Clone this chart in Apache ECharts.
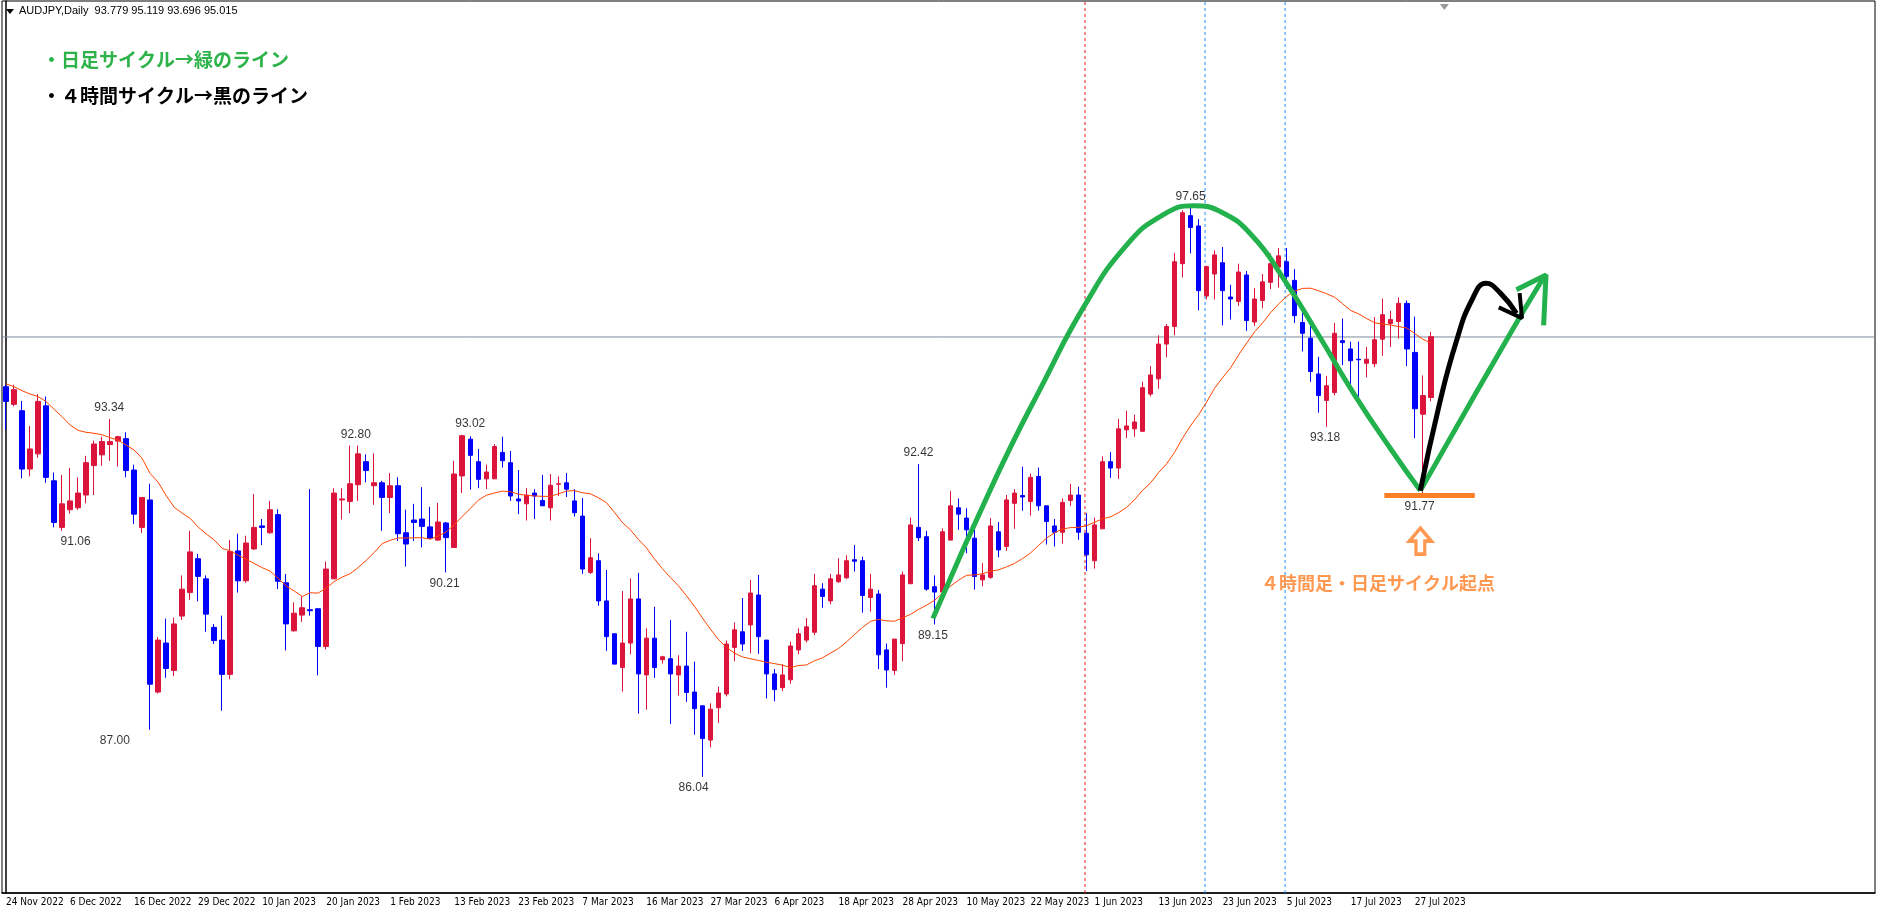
<!DOCTYPE html>
<html><head><meta charset="utf-8">
<script src="https://cdn.jsdelivr.net/npm/echarts@6/dist/echarts.min.js"></script>
<style>html,body{margin:0;padding:0;background:#fff}#c{width:1877px;height:914px}</style>
</head><body><div id="c"></div>
<script>
const tickLabels=['24 Nov 2022','6 Dec 2022','16 Dec 2022','29 Dec 2022','10 Jan 2023','20 Jan 2023','1 Feb 2023','13 Feb 2023','23 Feb 2023','7 Mar 2023','16 Mar 2023','27 Mar 2023','6 Apr 2023','18 Apr 2023','28 Apr 2023','10 May 2023','22 May 2023','1 Jun 2023','13 Jun 2023','23 Jun 2023','5 Jul 2023','17 Jul 2023','27 Jul 2023'];
const opens=[94.00,93.64,93.51,92.32,92.63,93.61,92.08,91.13,91.49,91.53,91.79,92.39,92.61,92.82,92.89,92.94,92.30,91.13,91.69,87.77,88.77,88.21,89.32,89.80,90.49,90.08,89.09,88.83,88.13,90.65,90.04,90.69,91.16,91.02,91.39,90.00,89.02,89.34,89.45,89.47,88.70,90.08,91.69,91.66,92.00,92.47,91.98,92.04,91.74,91.98,91.02,91.28,91.30,91.14,90.87,91.22,90.72,92.18,92.93,92.47,92.12,92.12,92.66,92.45,91.71,91.61,91.83,91.68,91.53,92.01,92.04,91.67,91.36,90.21,90.45,89.63,88.96,88.27,88.77,89.67,88.12,88.87,88.43,88.45,88.12,88.30,87.77,87.49,86.79,87.45,87.73,88.68,89.00,89.14,89.75,88.83,88.14,87.86,88.02,88.63,88.83,88.99,89.87,89.63,90.02,90.10,90.47,90.45,89.70,89.77,88.63,88.21,88.76,89.98,91.13,90.94,89.92,89.81,90.87,91.53,91.32,90.91,90.06,90.11,91.04,90.74,91.62,91.78,91.66,92.17,91.57,91.16,91.03,91.68,91.79,91.01,90.45,91.10,92.47,92.34,93.12,93.14,93.09,93.85,94.16,94.87,95.23,96.51,97.49,97.28,95.85,96.30,96.53,95.83,95.74,96.28,95.32,95.76,96.13,96.44,96.55,96.17,95.31,94.99,94.26,93.72,93.88,94.94,94.77,94.56,94.48,94.47,94.97,95.29,95.33,95.70,94.70,93.44,93.78];
const highs=[94.04,94.04,93.71,93.20,93.85,93.80,92.25,92.20,92.34,92.15,92.59,92.90,92.98,93.34,93.00,93.07,92.41,91.74,92.02,88.89,89.27,89.29,90.15,91.06,90.59,90.15,89.16,89.33,90.87,91.00,90.96,91.81,91.30,91.67,91.50,90.18,89.60,89.72,91.91,89.47,90.43,91.93,91.93,92.80,92.80,92.62,92.64,92.08,92.24,92.15,91.49,91.61,91.95,91.55,91.63,91.24,92.49,93.02,92.99,92.73,92.41,92.83,92.98,92.69,92.30,91.93,91.91,92.20,92.22,92.17,92.24,91.91,91.73,90.91,90.60,90.26,88.96,89.83,90.09,90.20,89.07,89.51,88.51,89.24,88.52,89.00,88.39,87.49,87.54,87.88,88.82,89.19,89.69,90.06,90.16,88.83,88.24,88.34,88.80,89.07,89.28,90.18,89.99,90.18,90.50,90.56,90.77,90.53,90.18,89.85,88.76,88.85,90.23,91.33,92.42,91.06,90.15,91.11,91.87,91.72,91.52,91.15,90.40,91.32,91.24,91.79,91.91,92.37,92.23,92.35,91.57,91.30,91.72,92.02,91.96,91.42,91.33,92.58,92.67,93.34,93.51,93.43,94.10,94.42,95.05,95.28,96.73,97.60,97.65,97.42,96.47,96.78,96.85,96.08,96.51,96.36,96.01,96.30,96.72,96.83,96.83,96.40,95.65,95.40,94.61,94.22,95.30,95.39,94.92,94.92,94.81,95.42,95.80,95.55,95.82,95.76,95.43,94.23,95.12];
const lows=[93.12,93.60,92.13,92.17,92.55,92.04,91.13,91.06,91.41,91.49,91.62,91.79,92.39,92.49,92.37,92.15,91.20,91.02,87.00,87.74,88.06,88.10,89.24,89.65,89.62,89.00,88.75,87.39,88.03,89.80,90.00,90.67,90.77,91.00,89.87,88.62,89.00,89.20,89.33,88.11,88.64,90.08,91.29,91.42,91.67,92.05,91.59,91.06,91.42,90.85,90.33,90.85,90.72,90.89,90.86,90.21,90.72,91.83,91.90,91.93,91.91,92.12,92.35,91.67,91.40,91.27,91.30,91.57,91.27,91.77,91.75,91.35,90.18,90.18,89.53,88.61,88.34,87.78,88.54,87.33,87.41,88.06,88.35,87.12,87.70,87.57,86.90,86.04,86.64,87.14,87.68,88.40,88.61,88.56,88.55,87.64,87.58,87.79,87.94,88.54,88.78,88.93,89.49,89.56,90.00,90.08,90.23,89.39,89.41,88.24,87.86,88.12,88.40,89.98,90.85,89.84,89.15,89.81,90.87,91.08,90.60,89.86,89.93,90.08,90.52,90.65,91.10,91.47,91.37,91.47,90.78,90.74,90.80,91.57,90.88,90.24,90.29,91.10,92.14,92.12,92.95,92.98,93.09,93.80,93.96,94.60,95.05,96.23,96.72,95.56,95.78,95.78,95.25,95.37,95.65,95.14,95.24,95.60,95.99,96.02,96.00,95.30,94.72,94.10,93.47,93.18,93.82,94.44,94.03,93.77,94.19,94.40,94.63,94.81,94.98,94.42,92.95,91.77,93.70];
const closes=[93.70,93.94,92.32,92.73,93.70,92.15,91.23,91.61,91.67,91.83,92.45,92.83,92.88,92.88,92.98,92.29,91.40,91.74,87.93,88.83,88.25,89.16,89.87,90.63,90.13,89.36,88.82,88.13,90.64,90.04,90.81,91.13,91.13,91.49,90.03,89.16,89.38,89.49,89.43,88.70,90.28,91.83,91.71,92.02,92.63,92.29,92.04,91.74,91.98,91.00,90.79,91.23,91.15,90.91,91.24,90.92,92.22,93.00,92.60,92.11,92.26,92.78,92.49,91.77,91.67,91.79,91.77,91.57,91.99,92.02,91.91,91.43,90.28,90.51,89.63,88.90,88.34,88.77,89.67,88.14,88.87,88.27,88.49,88.14,88.30,87.76,87.43,86.82,87.42,87.75,88.75,89.04,88.75,89.79,88.90,88.14,87.82,88.12,88.71,88.96,89.10,89.94,89.72,90.08,90.16,90.45,90.44,89.74,89.87,88.53,88.22,88.85,90.16,91.18,90.92,89.87,89.81,91.04,91.57,91.40,91.08,90.13,90.16,91.16,90.67,91.69,91.83,91.75,92.15,91.57,91.25,91.03,91.64,91.79,91.03,90.57,91.18,92.47,92.34,93.14,93.20,93.28,93.98,94.24,94.87,95.23,96.55,97.55,97.25,95.96,96.45,96.69,95.96,95.79,96.34,95.35,95.79,96.14,96.51,96.67,96.25,95.45,95.09,94.31,93.82,94.02,95.09,94.90,94.53,94.55,94.56,94.96,95.47,95.37,95.70,94.77,93.55,93.82,95.02];
// MA values for the first bars (earlier data not shown)
const maStart=[94.06,94.00,93.92,93.85,93.80,93.70,93.54,93.39,93.22,93.11,93.07,93.05,93.02,92.96,92.91,92.81,92.71,92.54,92.23];
const maPeriod=20;
// annotation lines [barIndex, price]
const greenCycle=[[115.8,89.27],[123.6,92.12],[129.6,94.08],[134.8,95.67],[140.0,96.89],[144.5,97.50],[148.3,97.69],[152.0,97.55],[155.8,97.06],[159.5,96.23],[164.0,95.05],[168.5,93.83],[173.0,92.73],[176.7,91.88]];
const greenUp=[[176.7,91.88],[183.5,93.83],[189.4,95.50],[192.1,96.23]];
const greenHead=[[188.7,95.98],[192.4,96.28],[192.1,95.25]];
const blackCycle=[[176.7,91.88],[179.0,93.59],[181.2,94.93],[183.2,95.79],[184.9,96.11],[186.7,95.91],[188.7,95.50]];
const blackHead=[[186.5,95.62],[189.4,95.40],[189.1,95.91]];
const baseLine=[[172.2,91.78],[183.5,91.78]];
const vLines=[[134.8,'#e41b1b'],[149.8,'#1e90ff'],[159.8,'#1e90ff']];
const priceLabels=[[12.9,93.34,'93.34',1],[8.7,91.06,'91.06',-1],[13.6,87.00,'87.00',-1],[43.7,92.80,'92.80',1],[54.8,90.21,'90.21',-1],[58.0,93.02,'93.02',1],[114.0,92.42,'92.42',1],[115.8,89.15,'89.15',-1],[85.9,86.04,'86.04',-1],[148.0,97.65,'97.65',1],[164.8,93.18,'93.18',-1],[176.6,91.77,'91.77',-1]];
const currentPrice=95.015;
const NCAT=234, YMIN=83.67, YMAX=101.87;

const cats=[]; for(let i=0;i<NCAT;i++) cats.push(i);
const candle=opens.map((o,i)=>[o,closes[i],lows[i],highs[i]]);
const ma=closes.map((c,i)=>{ if(i<maPeriod-1) return maStart[i]; let s=0; for(let k=i-maPeriod+1;k<=i;k++) s+=closes[k]; return +(s/maPeriod).toFixed(3);});
const lineS=(data,color,w,extra)=>Object.assign({type:'line',xAxisIndex:1,data,symbol:'none',silent:true,lineStyle:{color,width:w},z:5},extra||{});
const series=[];
series.push(lineS([[-0.5,currentPrice],[233.5,currentPrice]],'#7d8a99',1,{z:1}));
vLines.forEach(v=>series.push(lineS([[v[0],YMIN],[v[0],YMAX]],v[1],1,{z:1,lineStyle:{color:v[1],width:1,type:[3,3]}})));
series.push({type:'candlestick',xAxisIndex:0,data:candle,barWidth:5,z:3,itemStyle:{color:'#dc143c',color0:'#0000ff',borderColor:'#dc143c',borderColor0:'#0000ff',borderWidth:1}});
series.push({type:'line',xAxisIndex:0,data:ma,symbol:'none',lineStyle:{color:'#ff4500',width:1},z:4});
series.push(lineS(greenCycle,'#22b14c',5,{smooth:0.5,z:6}));
series.push(lineS(greenUp,'#22b14c',5,{z:6}));
series.push(lineS(greenHead,'#22b14c',5,{z:6}));
series.push(lineS(blackCycle,'#000',5,{smooth:0.5,z:7}));
series.push(lineS(blackHead,'#000',4,{z:7}));
series.push(lineS(baseLine,'#ff7f27',5,{z:6}));
series.push({type:'scatter',xAxisIndex:1,z:8,silent:true,data:[[176.7,90.85]],symbol:'path://M10,0 L20,11 L14,11 L14,22 L6,22 L6,11 L0,11 Z',symbolSize:[22,26],itemStyle:{color:'#fff',borderColor:'#ff7f27',borderWidth:3.5}});
series.push({type:'scatter',xAxisIndex:1,z:8,silent:true,data:[[171.4,90.0]],symbolSize:0,label:{show:true,formatter:'４時間足・日足サイクル起点',color:'#ff7f27',fontSize:18,fontWeight:'bold',fontFamily:'Noto Sans CJK JP'}});
series.push({type:'scatter',xAxisIndex:1,z:8,silent:true,symbolSize:0,data:priceLabels.map(p=>({value:[p[0],p[1]],label:{show:true,formatter:p[2],position:p[3]>0?'top':'bottom',distance:5,color:'#000',fontSize:12,fontFamily:'Liberation Sans'}}))});
series.push({type:'scatter',xAxisIndex:1,z:8,silent:true,data:[[179.7,101.75]],symbol:'triangle',symbolRotate:180,symbolSize:[9,6],itemStyle:{color:'#808080'}});

const chart=echarts.init(document.getElementById('c'));
chart.setOption({
 animation:false,backgroundColor:'#fff',
 grid:{left:2,right:2,top:1,bottom:21,show:true,borderColor:'#000',borderWidth:1},
 xAxis:[{type:'category',data:cats,boundaryGap:true,axisLine:{lineStyle:{color:'#000',width:1.5}},
   axisTick:{alignWithLabel:true,interval:(i)=>i%8===0&&i/8<tickLabels.length,length:4,lineStyle:{color:'#000'}},
   axisLabel:{interval:(i)=>i%8===0&&i/8<tickLabels.length,hideOverlap:false,formatter:(v,i)=>tickLabels[i/8]||'',align:'left',margin:4,fontSize:10,color:'#000',fontFamily:'DejaVu Sans Condensed, Liberation Sans Narrow, Liberation Sans'},splitLine:{show:false}},
  {type:'value',min:-0.5,max:233.5,show:false}],
 yAxis:{type:'value',min:YMIN,max:YMAX,position:'right',axisLine:{show:true,lineStyle:{color:'#000',width:1.5}},axisTick:{show:false},axisLabel:{show:false},splitLine:{show:false}},
 graphic:[
  {type:'polygon',shape:{points:[[6,9],[14,9],[10,14]]},style:{fill:'#000'}},
  {type:'text',left:19,top:5,style:{text:'AUDJPY,Daily  93.779 95.119 93.696 95.015',font:'11px "Liberation Sans"',fill:'#000'}},
  {type:'text',left:42,top:50,style:{text:'・日足サイクル→緑のライン',font:'bold 19px "Noto Sans CJK JP"',fill:'#2db34a'}},
  {type:'text',left:42,top:86,style:{text:'・４時間サイクル→黒のライン',font:'bold 19px "Noto Sans CJK JP"',fill:'#000'}}
 ],
 series
});
</script></body></html>
